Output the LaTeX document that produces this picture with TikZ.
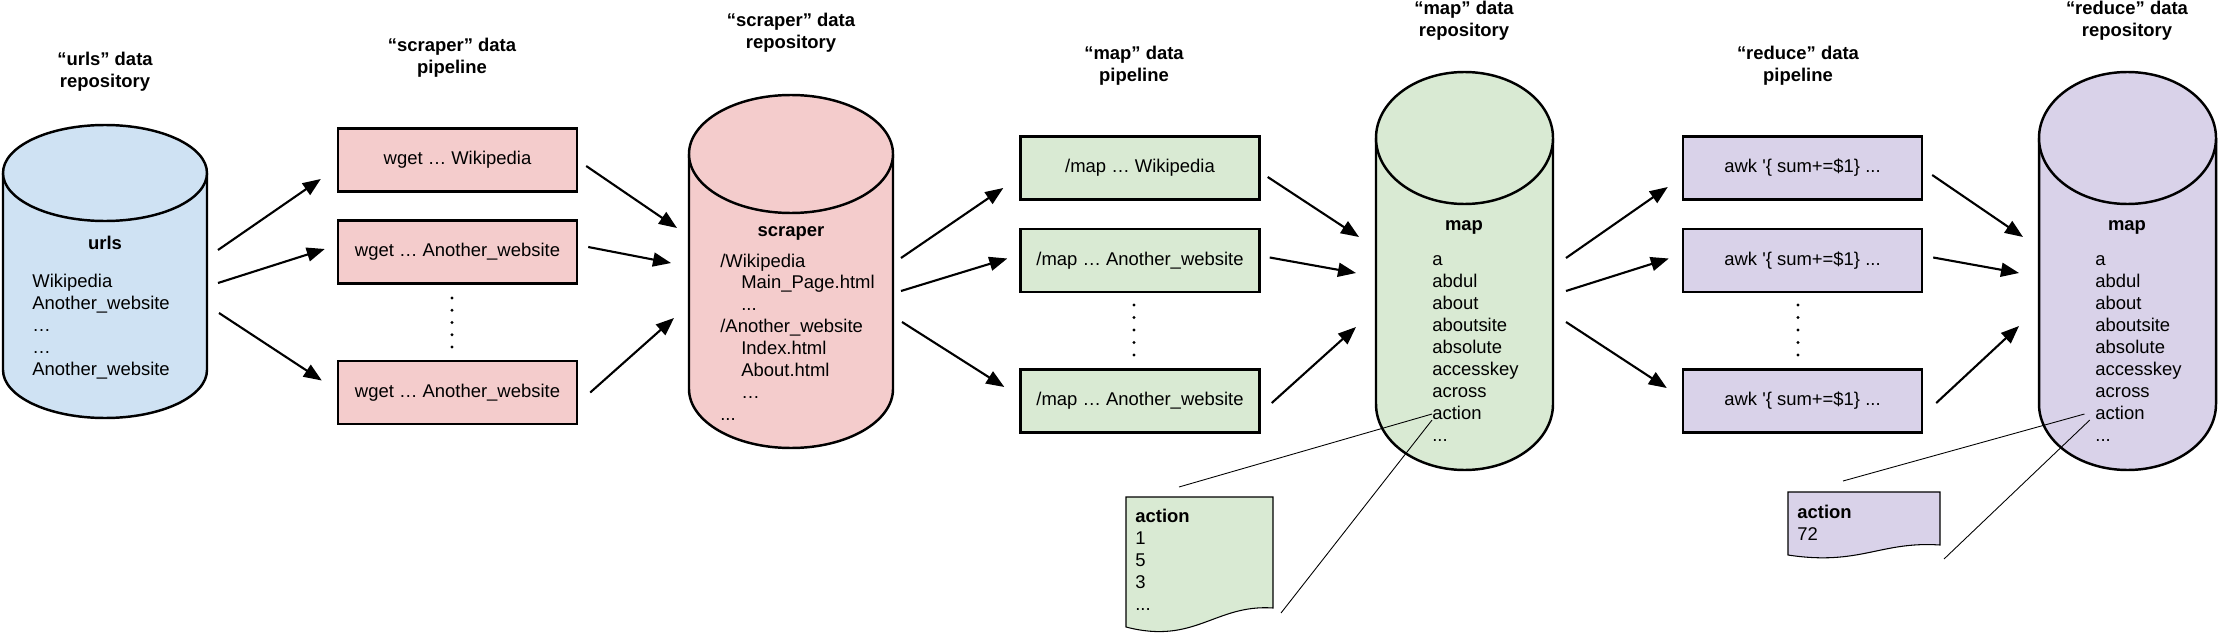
\documentclass[tikz,border=0pt]{standalone}
\usepackage{fontspec}
\setmainfont{Liberation Sans}
\usetikzlibrary{calc, arrows.meta}

\definecolor{urlsfill}{HTML}{CFE2F3}
\definecolor{scraperfill}{HTML}{F4CCCC}
\definecolor{mapfill}{HTML}{D9EAD3}
\definecolor{reducefill}{HTML}{D9D2E9}

\newcommand{\diagfont}{\fontsize{10.5}{12.5}\selectfont}

% repository drum: centre x, top y, x radius, y radius, bottom y, fill
\newcommand{\repodrum}[6]{%
  \pgfmathsetmacro{\capY}{#2+#4}%
  \pgfmathsetmacro{\baseY}{#5-#4}%
  \filldraw[outline, fill=#6] (#1-#3,\capY) -- (#1-#3,\baseY)
    .. controls (#1-#3,\baseY+0.5523*#4) and (#1-0.5523*#3,#5) .. (#1,#5)
    .. controls (#1+0.5523*#3,#5) and (#1+#3,\baseY+0.5523*#4) .. (#1+#3,\baseY)
    -- (#1+#3,\capY);
  \filldraw[outline, fill=#6] (#1,\capY) ellipse [x radius=#3, y radius=#4];
}

\begin{document}
\begin{tikzpicture}[
    x=0.02cm, y=-0.02cm,
    font=\diagfont,
    outline/.style={line width=1.4pt, draw=black},
    stage/.style={outline, minimum width=4.78cm, minimum height=1.26cm, inner sep=0pt},
    heading/.style={font=\diagfont\bfseries, align=center},
    entry/.style={anchor=west, inner sep=0pt, text height=6.5pt, text depth=0pt},
    flow/.style={line width=1.2pt, -{Triangle[length=0.36cm, width=0.28cm]}},
    page/.style={draw=black, line width=0.6pt},
    lead/.style={line width=0.5pt}
]
\useasboundingbox (0,0) rectangle (2218,635);

% ---------------------------------------------------------
% TITLES
% ---------------------------------------------------------
\node[heading] (urls-title)    at (105,72)    {“urls” data\\repository};
\node[heading] (scrpipe-title) at (452,57.5)  {“scraper” data\\pipeline};
\node[heading] (scrrepo-title) at (791,32.5)  {“scraper” data\\repository};
\node[heading] (mappipe-title) at (1134,66)   {“map” data\\pipeline};
\node[heading] (maprepo-title) at (1464,21)   {“map” data\\repository};
\node[heading] (redpipe-title) at (1798,66)   {“reduce” data\\pipeline};
\node[heading] (redrepo-title) at (2127,21)   {“reduce” data\\repository};

% ---------------------------------------------------------
% REPOSITORIES
% ---------------------------------------------------------
\repodrum{105}{125}{102}{48}{418}{urlsfill}
\repodrum{791}{95}{102}{59}{448}{scraperfill}
\repodrum{1464.5}{72}{88.5}{66}{470}{mapfill}
\repodrum{2127.5}{72}{88.5}{66}{470}{reducefill}

% urls
\node[heading] (urls-name) at (105,243) {urls};
\node[entry] (u1) at (32,282) {Wikipedia};
\node[entry] (u2) at (32,304) {Another\_website};
\node[entry] (u3) at (32,326) {…};
\node[entry] (u4) at (32,348) {…};
\node[entry] (u5) at (32,370) {Another\_website};

% scraper
\node[heading] (scr-name) at (791,233) {scraper};
\node[entry] (s1) at (720,262) {/Wikipedia};
\node[entry] (s2) at (741,283) {Main\_Page.html};
\node[entry] (s3) at (741,305) {...};
\node[entry] (s4) at (720,327) {/Another\_website};
\node[entry] (s5) at (741,349) {Index.html};
\node[entry] (s6) at (741,371) {About.html};
\node[entry] (s7) at (741,393) {…};
\node[entry] (s8) at (720,415) {...};

% map
\node[heading] (map-name) at (1464,227) {map};
\foreach \w [count=\i] in {a, abdul, about, aboutsite, absolute, accesskey, across, action}
  \node[entry] (m\i) at (1432,260+22*\i-22) {\w};
\node[entry] (m9) at (1432,436) {...};

% reduce
\node[heading] (red-name) at (2127,227) {map};
\foreach \w [count=\i] in {a, abdul, about, aboutsite, absolute, accesskey, across, action}
  \node[entry] (r\i) at (2095,260+22*\i-22) {\w};
\node[entry] (r9) at (2095,436) {...};

% ---------------------------------------------------------
% PIPELINES
% ---------------------------------------------------------
\node[stage, fill=scraperfill] (scr1) at (457.5,160)   {wget … Wikipedia};
\node[stage, fill=scraperfill] (scr2) at (457.5,252)   {wget … Another\_website};
\node[stage, fill=scraperfill] (scr3) at (457.5,392.5) {wget … Another\_website};

\node[stage, fill=mapfill] (map1) at (1140,168)   {/map … Wikipedia};
\node[stage, fill=mapfill] (map2) at (1140,260.5) {/map … Another\_website};
\node[stage, fill=mapfill] (map3) at (1140,401)   {/map … Another\_website};

\node[stage, fill=reducefill] (red1) at (1802.5,168)   {awk \textquotesingle\{ sum+=\$1\} ...};
\node[stage, fill=reducefill] (red2) at (1802.5,260.5) {awk \textquotesingle\{ sum+=\$1\} ...};
\node[stage, fill=reducefill] (red3) at (1802.5,401)   {awk \textquotesingle\{ sum+=\$1\} ...};

% vertical dots between 2nd and 3rd pipeline
\foreach \k in {0,...,4} {
  \fill (452,298+12.25*\k) circle (0.9pt);
  \fill (1134,305+12.5*\k) circle (0.9pt);
  \fill (1798,305+12.5*\k) circle (0.9pt);
}

% ---------------------------------------------------------
% FLOWS
% ---------------------------------------------------------
\path (218,250) coordinate (urls-o1) (218,283) coordinate (urls-o2) (219,313) coordinate (urls-o3);
\path (677,228) coordinate (scr-i1) (671,263) coordinate (scr-i2) (674,318) coordinate (scr-i3);
\path (901,258) coordinate (scr-o1) (901,291) coordinate (scr-o2) (902,322) coordinate (scr-o3);
\path (1359,237) coordinate (map-i1) (1356,273) coordinate (map-i2) (1356,327) coordinate (map-i3);
\path (1566,258) coordinate (map-o1) (1566,291) coordinate (map-o2) (1566,322) coordinate (map-o3);
\path (2023,237) coordinate (red-i1) (2019,273) coordinate (red-i2) (2019,326) coordinate (red-i3);

\draw[flow] (urls-o1) -- ($(scr1.west)+(-16,19)$);
\draw[flow] (urls-o2) -- ($(scr2.west)+(-12,-3)$);
\draw[flow] (urls-o3) -- ($(scr3.west)+(-15,-12)$);
\draw[flow] ($(scr1.east)+(8,6)$)  -- (scr-i1);
\draw[flow] ($(scr2.east)+(10,-5)$) -- (scr-i2);
\draw[flow] ($(scr3.east)+(12,0)$)  -- (scr-i3);

\draw[flow] (scr-o1) -- ($(map1.west)+(-16,20)$);
\draw[flow] (scr-o2) -- ($(map2.west)+(-12,-2)$);
\draw[flow] (scr-o3) -- ($(map3.west)+(-15,-14)$);
\draw[flow] ($(map1.east)+(7,9)$)   -- (map-i1);
\draw[flow] ($(map2.east)+(9,-3)$)  -- (map-i2);
\draw[flow] ($(map3.east)+(11,2)$)  -- (map-i3);

\draw[flow] (map-o1) -- ($(red1.west)+(-14,19)$);
\draw[flow] (map-o2) -- ($(red2.west)+(-13,-2)$);
\draw[flow] (map-o3) -- ($(red3.west)+(-15,-13)$);
\draw[flow] ($(red1.east)+(9,7)$)   -- (red-i1);
\draw[flow] ($(red2.east)+(10,-3)$)  -- (red-i2);
\draw[flow] ($(red3.east)+(13,2)$)  -- (red-i3);

% ---------------------------------------------------------
% CALLOUTS
% ---------------------------------------------------------
\filldraw[page, fill=mapfill] (1126,497) -- (1273,497) -- (1273,608)
  .. controls (1215,604) and (1195,645) .. (1126,627) -- cycle;
\node[entry, font=\diagfont\bfseries] (mapdoc-key) at (1135,517) {action};
\foreach \v [count=\i] in {1,5,3}
  \node[entry] (mapdoc-\i) at (1135,517+22*\i) {\v};
\node[entry] (mapdoc-more) at (1135,605) {...};
\coordinate (mapdoc-a) at (1179,487);
\coordinate (mapdoc-b) at (1281,613);
\draw[lead] (m8.west) -- (mapdoc-a);
\draw[lead] (m8.south west) -- (mapdoc-b);

\filldraw[page, fill=reducefill] (1788,492) -- (1940,492) -- (1940,545)
  .. controls (1880,541) and (1860,566) .. (1788,555) -- cycle;
\node[entry, font=\diagfont\bfseries] (reddoc-key) at (1797,513) {action};
\node[entry] (reddoc-1) at (1797,535) {72};
\coordinate (reddoc-a) at (1843,481);
\coordinate (reddoc-b) at (1944,559);
\draw[lead] ([xshift=-6pt]r8.west) -- (reddoc-a);
\draw[lead] ([xshift=-3pt]r8.south west) -- (reddoc-b);

\end{tikzpicture}
\end{document}
